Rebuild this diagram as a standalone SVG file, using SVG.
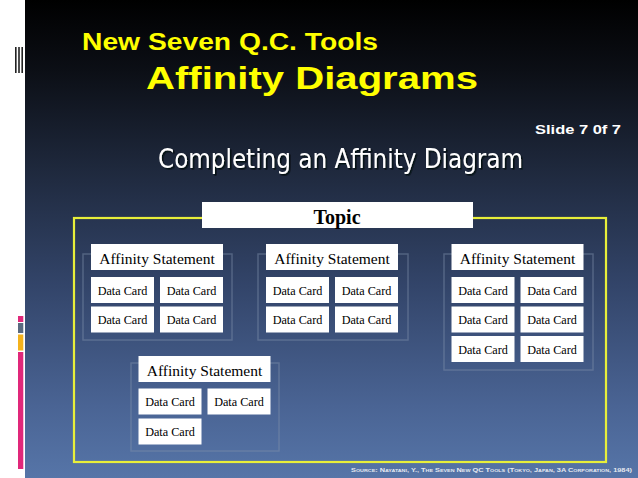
<svg xmlns="http://www.w3.org/2000/svg" width="638" height="478" viewBox="0 0 638 478">
<defs>
<linearGradient id="bg" x1="0" y1="0" x2="0" y2="1">
<stop offset="0" stop-color="#000000"/>
<stop offset="0.15" stop-color="#0c0f16"/>
<stop offset="0.35" stop-color="#1e283c"/>
<stop offset="0.6" stop-color="#33456a"/>
<stop offset="0.85" stop-color="#4a6494"/>
<stop offset="1" stop-color="#5675a8"/>
</linearGradient>
<filter id="shadow" x="-5%" y="-20%" width="110%" height="150%">
<feDropShadow dx="1.5" dy="1.5" stdDeviation="0.6" flood-color="#05080f" flood-opacity="0.9"/>
</filter>
</defs>
<style>
.card{fill:#ffffff}
.frame{fill:none;stroke:#8090aa;stroke-opacity:0.45;stroke-width:1.5}
.st{font-family:"Liberation Serif",serif;font-size:15.5px;fill:#000;text-anchor:middle}
.dc{font-family:"Liberation Serif",serif;font-size:12.2px;fill:#000;text-anchor:middle}
</style>
<rect x="0" y="0" width="638" height="478" fill="#ffffff"/>
<rect x="25" y="0" width="613" height="478" fill="url(#bg)"/>
<!-- left decorative bars -->
<g id="deco">
<rect x="15" y="47" width="1.6" height="26" fill="#222"/>
<rect x="18.2" y="47" width="1.6" height="26" fill="#222"/>
<rect x="21.4" y="47" width="1.6" height="26" fill="#222"/>
<rect x="18" y="316" width="5.3" height="6" fill="#e0287a"/>
<rect x="18" y="323" width="5.3" height="10" fill="#5a6a80"/>
<rect x="18" y="334.5" width="5.3" height="16" fill="#f4b21c"/>
<rect x="18" y="352" width="5.3" height="117" fill="#e0287a"/>
</g>
<!-- titles -->
<text x="82" y="50" font-family="Liberation Sans,Arial,sans-serif" font-weight="bold" font-size="24" fill="#ffff00" textLength="296" lengthAdjust="spacingAndGlyphs">New Seven Q.C. Tools</text>
<text x="146" y="89" font-family="Liberation Sans,Arial,sans-serif" font-weight="bold" font-size="31.5" fill="#ffff00" textLength="332" lengthAdjust="spacingAndGlyphs">Affinity Diagrams</text>
<text x="535" y="134" font-family="Liberation Sans,Arial,sans-serif" font-weight="bold" font-size="13" fill="#ffffff" textLength="86" lengthAdjust="spacingAndGlyphs">Slide 7 0f 7</text>
<text x="158" y="168" font-family="DejaVu Sans,Verdana,sans-serif" font-size="26" fill="#ffffff" textLength="365" lengthAdjust="spacingAndGlyphs" filter="url(#shadow)">Completing an Affinity Diagram</text>
<!-- outer topic box -->
<g id="topic">
<rect x="74" y="218" width="532" height="244" fill="none" stroke="#e8ef3a" stroke-width="2.2"/>
<rect x="202" y="202" width="271" height="26" class="card"/>
<text x="337" y="224" font-family="Liberation Serif,serif" font-weight="bold" font-size="20" fill="#000" text-anchor="middle">Topic</text>
</g>
<!-- group 1 -->
<g id="group1">
<rect x="83" y="254" width="149" height="86" class="frame"/>
<rect x="91" y="244" width="132" height="26" class="card"/>
<text x="157" y="264" class="st">Affinity Statement</text>
<rect x="91" y="277" width="63" height="26" class="card"/>
<text x="122.5" y="294.5" class="dc">Data Card</text>
<rect x="160" y="277" width="63" height="26" class="card"/>
<text x="191.5" y="294.5" class="dc">Data Card</text>
<rect x="91" y="306.5" width="63" height="26" class="card"/>
<text x="122.5" y="324" class="dc">Data Card</text>
<rect x="160" y="306.5" width="63" height="26" class="card"/>
<text x="191.5" y="324" class="dc">Data Card</text>
</g>
<!-- group 2 -->
<g id="group2">
<rect x="258" y="254" width="150" height="86" class="frame"/>
<rect x="266" y="244" width="132" height="26" class="card"/>
<text x="332" y="264" class="st">Affinity Statement</text>
<rect x="266" y="277" width="63" height="26" class="card"/>
<text x="297.5" y="294.5" class="dc">Data Card</text>
<rect x="335" y="277" width="63" height="26" class="card"/>
<text x="366.5" y="294.5" class="dc">Data Card</text>
<rect x="266" y="306.5" width="63" height="26" class="card"/>
<text x="297.5" y="324" class="dc">Data Card</text>
<rect x="335" y="306.5" width="63" height="26" class="card"/>
<text x="366.5" y="324" class="dc">Data Card</text>
</g>
<!-- group 3 -->
<g id="group3">
<rect x="444" y="254" width="149" height="116" class="frame"/>
<rect x="451.5" y="244" width="132" height="26" class="card"/>
<text x="517.5" y="264" class="st">Affinity Statement</text>
<rect x="451.5" y="277" width="63" height="26" class="card"/>
<text x="483" y="294.5" class="dc">Data Card</text>
<rect x="520.5" y="277" width="63" height="26" class="card"/>
<text x="552" y="294.5" class="dc">Data Card</text>
<rect x="451.5" y="306.5" width="63" height="26" class="card"/>
<text x="483" y="324" class="dc">Data Card</text>
<rect x="520.5" y="306.5" width="63" height="26" class="card"/>
<text x="552" y="324" class="dc">Data Card</text>
<rect x="451.5" y="336" width="63" height="26" class="card"/>
<text x="483" y="353.5" class="dc">Data Card</text>
<rect x="520.5" y="336" width="63" height="26" class="card"/>
<text x="552" y="353.5" class="dc">Data Card</text>
</g>
<!-- group 4 -->
<g id="group4">
<rect x="131" y="363" width="148" height="88" class="frame"/>
<rect x="138.5" y="356" width="132" height="26" class="card"/>
<text x="204.5" y="376" class="st">Affinity Statement</text>
<rect x="138.5" y="388.5" width="63" height="26" class="card"/>
<text x="170" y="406" class="dc">Data Card</text>
<rect x="207.5" y="388.5" width="63" height="26" class="card"/>
<text x="239" y="406" class="dc">Data Card</text>
<rect x="138.5" y="418.5" width="63" height="26" class="card"/>
<text x="170" y="436" class="dc">Data Card</text>
</g>
<g id="connectors"/>
<text x="351" y="472" font-family="Liberation Sans,Arial,sans-serif" font-weight="bold" font-size="5.5" font-variant="small-caps" fill="#e6e9f0" textLength="281" lengthAdjust="spacingAndGlyphs">Source: Nayatani, Y., The Seven New QC Tools (Tokyo, Japan, 3A Corporation, 1984)</text>
</svg>
